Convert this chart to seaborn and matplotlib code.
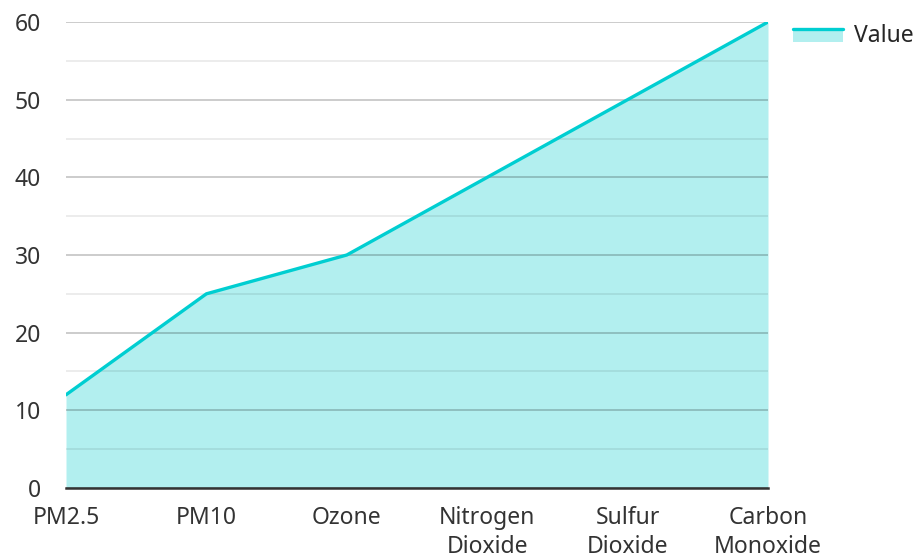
import numpy as np
import pandas as pd
import matplotlib
matplotlib.use("Agg")
import matplotlib.pyplot as plt
import seaborn as sns
from matplotlib.legend_handler import HandlerBase
from matplotlib.patches import Rectangle
from matplotlib.lines import Line2D

# -----------------------------
# data
# -----------------------------
pollutants = ["PM2.5", "PM10", "Ozone", "Nitrogen\nDioxide", "Sulfur\nDioxide", "Carbon\nMonoxide"]
values = [12, 25, 30, 40, 50, 60]
series_name = "Value"

line_color = "#00CED1"
fill_color = "#B2EFEF"

df = pd.DataFrame({"pollutant": pollutants, "value": values})
df["pos"] = np.arange(len(df))


class AreaHandler(HandlerBase):
    # filled box with the line along its top edge
    def create_artists(self, legend, orig_handle, xdescent, ydescent, width, height, fontsize, trans):
        rect = Rectangle((-xdescent, -ydescent), width, height * 0.8,
                         facecolor=fill_color, edgecolor="none", transform=trans)
        ln = Line2D([-xdescent, -xdescent + width], [-ydescent + height * 0.8] * 2,
                    color=line_color, lw=2.4, transform=trans)
        return [rect, ln]


sns.set_theme(style="white")
plt.rcParams["font.family"] = ["Noto Sans", "DejaVu Sans"]

fig, ax = plt.subplots(figsize=(9.18, 5.60), dpi=100)
fig.subplots_adjust(left=0.0719, right=0.8366, bottom=0.1286, top=0.9607)

ax.fill_between(df["pos"], 0, df["value"], color=fill_color, linewidth=0, zorder=1)
sns.lineplot(data=df, x="pos", y="value", ax=ax, color=line_color, linewidth=2.4, zorder=3)

ax.set_xlim(0, len(df) - 1)
ax.set_ylim(0, 60)
ax.set_xticks(df["pos"])
ax.set_xticklabels(df["pollutant"])
ax.set_yticks(range(0, 61, 10))
ax.set_yticks(range(5, 60, 10), minor=True)
ax.grid(axis="y", which="major", color="black", alpha=0.2, linewidth=1.4, zorder=2)
ax.grid(axis="y", which="minor", color="black", alpha=0.075, linewidth=1.4, zorder=2)
ax.set_axisbelow(False)
ax.set_xlabel("")
ax.set_ylabel("")

for s in ["top", "right", "left"]:
    ax.spines[s].set_visible(False)
ax.spines["bottom"].set_color("#333333")
ax.spines["bottom"].set_linewidth(1.8)
ax.spines["bottom"].set_zorder(4)

ax.tick_params(axis="both", which="both", length=0, labelsize=16.5, colors="#333333")
ax.tick_params(axis="y", pad=18)
ax.tick_params(axis="x", pad=13)
for lbl in ax.get_xticklabels():
    lbl.set_linespacing(1.3)

ax.legend(handles=[Rectangle((0, 0), 1, 1)], labels=[series_name],
          handler_map={Rectangle: AreaHandler()},
          loc="upper left", bbox_to_anchor=(1.0 + 25 / 702, 1.0 - 2 / 466), frameon=False,
          fontsize=16.5, handlelength=2.2, handleheight=0.75, handletextpad=0.45,
          borderaxespad=0, borderpad=0)

fig.savefig("out.png", dpi=100)
